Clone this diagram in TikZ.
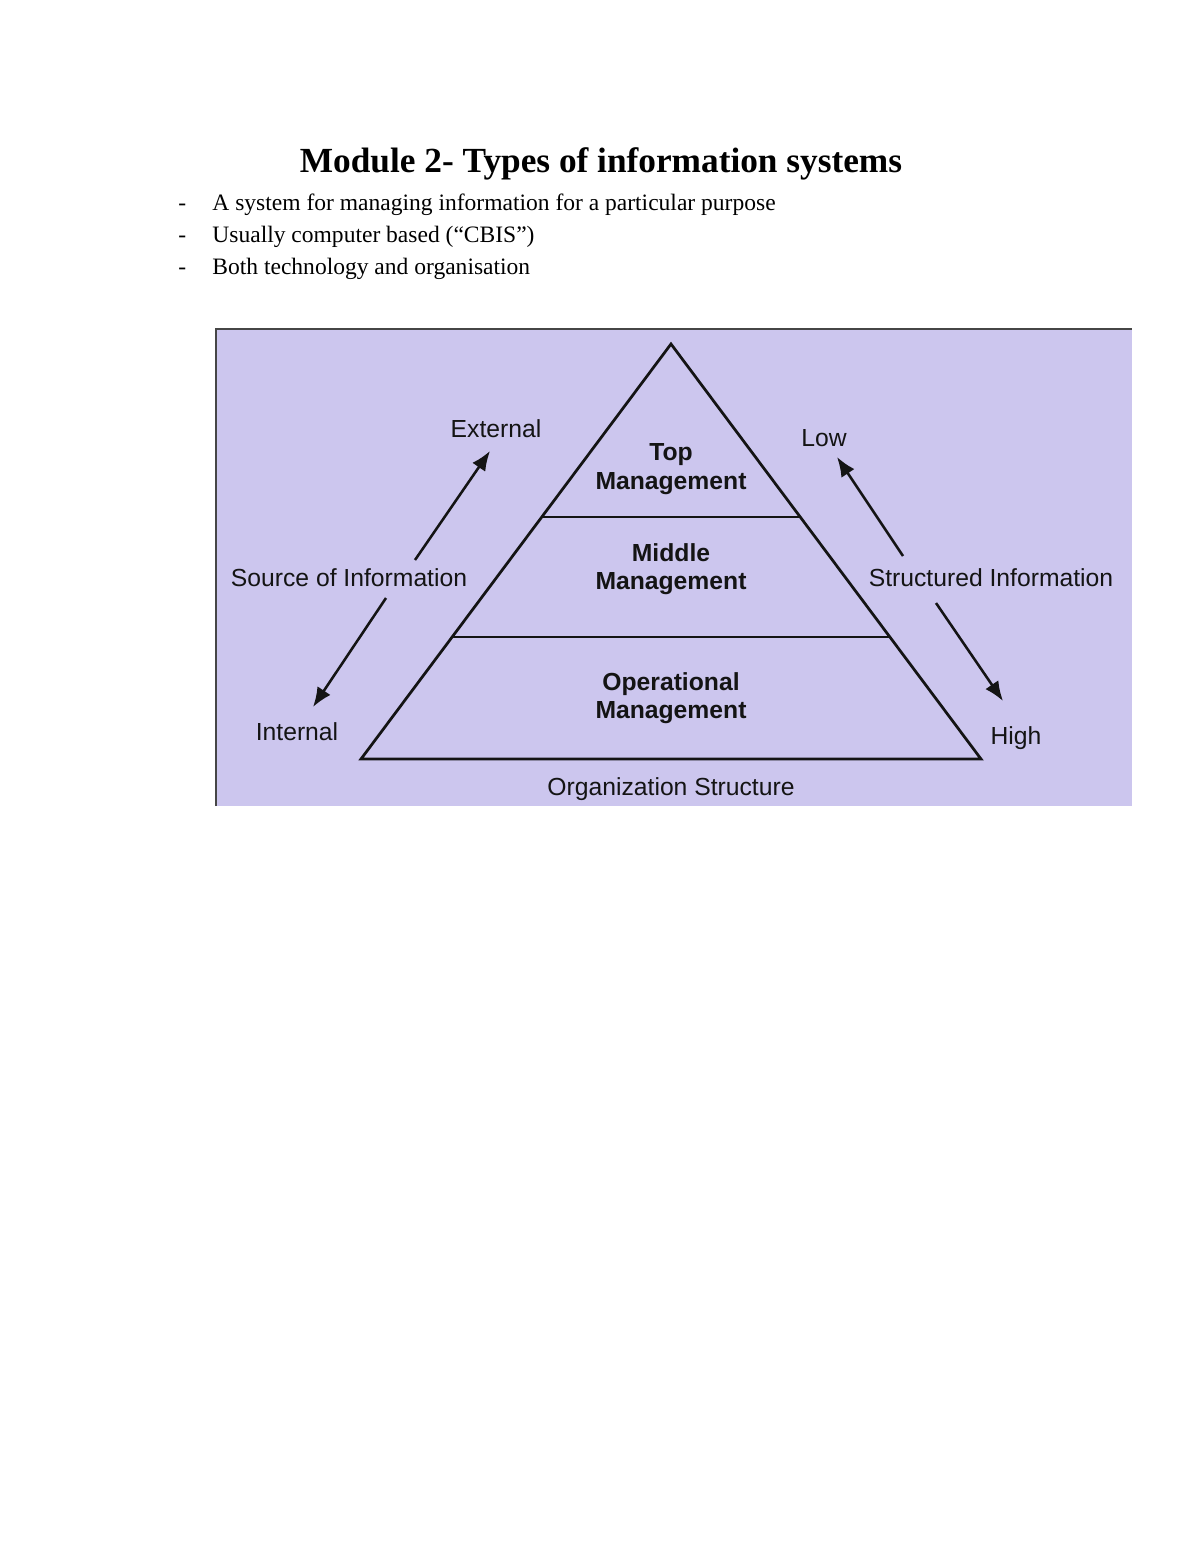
\documentclass[tikz,border=0pt]{standalone}
\usepackage{fontspec}
\setmainfont{Liberation Serif}
\setsansfont{Liberation Sans}
\usetikzlibrary{arrows.meta, positioning, calc}
\definecolor{PanelBg}{RGB}{204, 198, 238}
\definecolor{Frame}{RGB}{70, 70, 70}
\definecolor{Ink}{RGB}{20, 20, 20}

\begin{document}
\begin{tikzpicture}[x=0.51pt,y=-0.51pt,
    lbl/.style={font=\sffamily\fontsize{12.6}{14}\selectfont, text=Ink, inner sep=0pt},
    lvl/.style={lbl, font=\sffamily\bfseries\fontsize{12.6}{14.5}\selectfont, align=center},
    arr/.style={-{Latex[length=10pt,width=8pt]}, line width=1.3pt, draw=Ink}]
    \useasboundingbox[fill=white] (0,0) rectangle (1200,1553);
    % heading and bullet list
    \node[font=\bfseries\fontsize{18}{21}\selectfont] (title) at (601,164) {Module 2- Types of information systems};
    \foreach \txt [count=\i] in {A system for managing information for a particular purpose,
        Usually computer based (“CBIS”), Both technology and organisation} {
        \node[anchor=base west, font=\fontsize{12}{14}\selectfont, inner sep=0pt] (item\i) at (212,{211+32*(\i-1)}) {\txt};
        \node[anchor=base west, font=\fontsize{12}{14}\selectfont, inner sep=0pt] (dash\i) at (178,{211+32*(\i-1)}) {-};
    }
    % picture panel
    \fill[PanelBg] (216,329) rectangle (1132,806);
    \draw[Frame, line width=1.1pt] (216,806) -- (216,329) -- (1132,329);
    % pyramid
    \coordinate (apex) at (671,344);
    \coordinate (baseL) at (361,759);
    \coordinate (baseR) at (981,759);
    \draw[Ink, line width=1.4pt] (apex) -- (baseL) -- (baseR) -- cycle;
    \draw[Ink, line width=1.4pt] ($(apex)!0.417!(baseL)$) -- ($(apex)!0.417!(baseR)$);
    \draw[Ink, line width=1.4pt] ($(apex)!0.706!(baseL)$) -- ($(apex)!0.706!(baseR)$);
    \node[lvl] (top) at (671,469) {Top\\Management};
    \node[lvl] (middle) at (671,569) {Middle\\Management};
    \node[lvl] (oper) at (671,698) {Operational\\Management};
    \node[lbl] (org) at (671,789) {Organization Structure};
    % source of information
    \node[lbl] (source) at (349,578) {Source of Information};
    \node[lbl] (external) at (496,429) {External};
    \node[lbl] (internal) at (297,732) {Internal};
    \coordinate (srcUp) at (415,560);
    \coordinate (extTip) at (490,451);
    \coordinate (srcDown) at (386,598);
    \coordinate (intTip) at (313,707);
    \draw[arr] (srcUp) -- (extTip);
    \draw[arr] (srcDown) -- (intTip);
    % structured information
    \node[lbl] (structured) at (991,578) {Structured Information};
    \node[lbl] (low) at (824,438) {Low};
    \node[lbl] (high) at (1016,738) {High};
    \coordinate (strUp) at (903,556);
    \coordinate (lowTip) at (837,457);
    \coordinate (strDown) at (936,603);
    \coordinate (highTip) at (1003,701);
    \draw[arr] (strUp) -- (lowTip);
    \draw[arr] (strDown) -- (highTip);
\end{tikzpicture}
\end{document}
